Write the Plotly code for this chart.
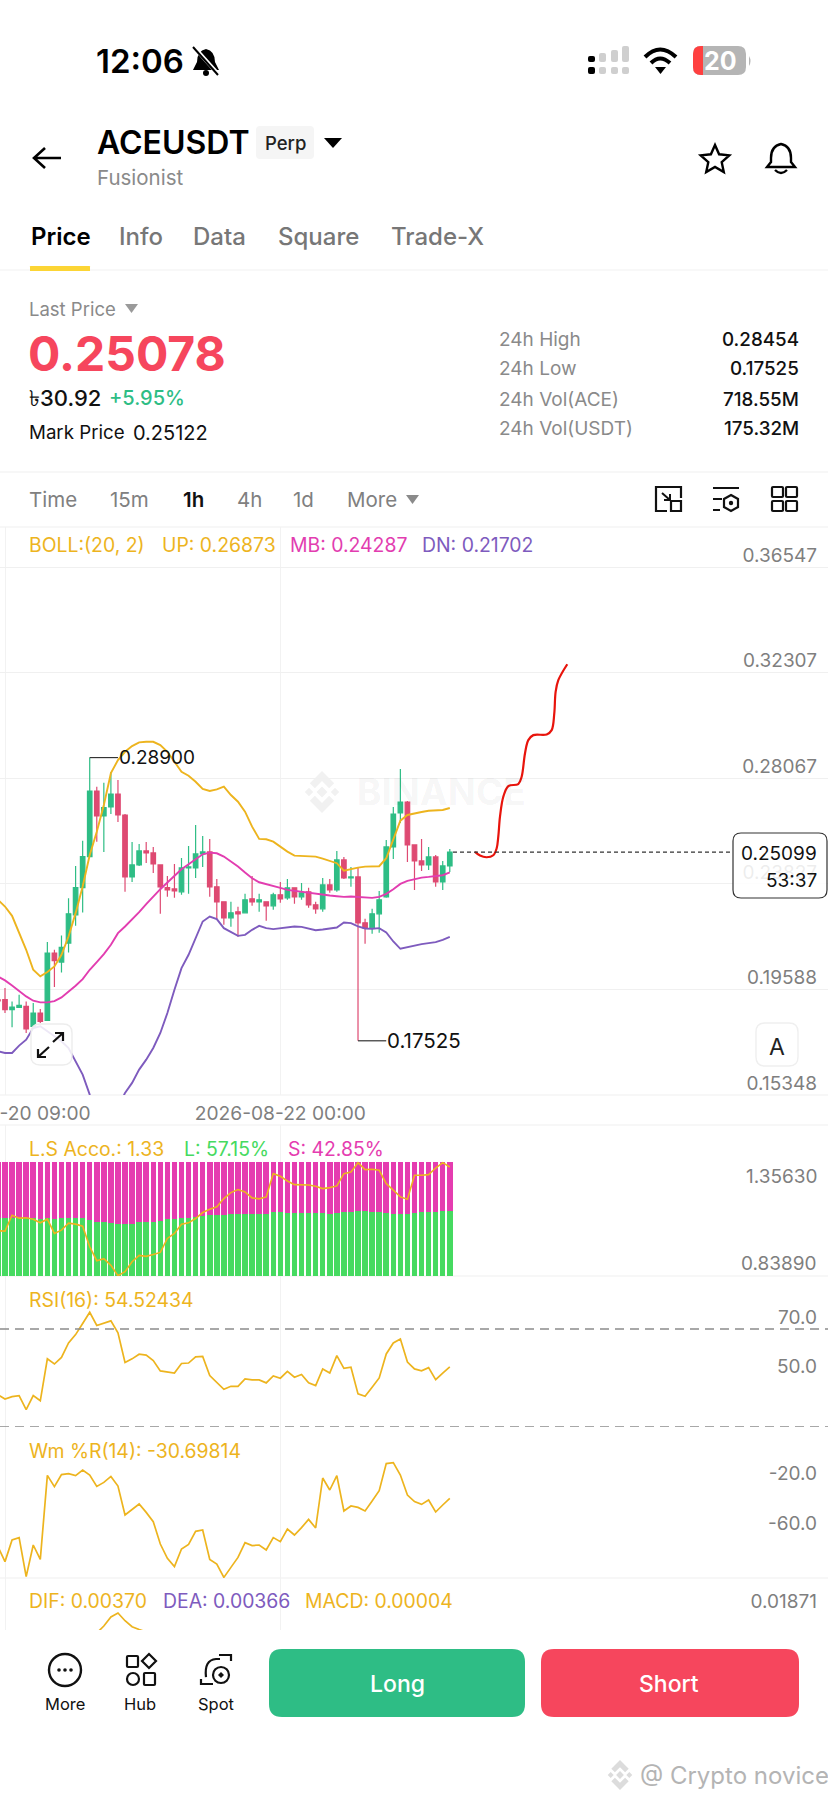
"""ACEUSDT perp screen: candles with BOLL, long/short, RSI, W%R and MACD panels."""
import math
import re
import pandas as pd
import plotly.graph_objects as go

W, H = 828, 1800
FONT = "Inter"
GREEN, RED, CANDLE_RED = "#2EBD85", "#F6465D", "#DE4A72"
YELLOW, MAGENTA, PURPLE = "#EDB41E", "#E23DB0", "#7E5BBE"
BAR_GREEN, BAR_MAGENTA = "#46DA60", "#E53CB0"
GRAY, GRID = "#7F7F7F", "#F2F2F2"

# hours from 2026-08-20 09:00, one candle an hour
hours = list(range(-1, 64))

candle_open = [0.19170, 0.19175, 0.18774, 0.18867, 0.18907, 0.18105, 0.18642, 0.18345, 0.21048, 0.20687,
               0.21449, 0.22584, 0.23679, 0.24922, 0.27556, 0.26554, 0.26915, 0.27436, 0.26594, 0.24108,
               0.24589, 0.25150, 0.25070, 0.24589, 0.23679, 0.23626, 0.23506, 0.24469, 0.24469, 0.25030,
               0.25110, 0.23707, 0.23105, 0.22464, 0.22704, 0.22664, 0.23225, 0.23105, 0.23105, 0.22945,
               0.23386, 0.23266, 0.23667, 0.23306, 0.23506, 0.22985, 0.22825, 0.23787, 0.23586, 0.24789,
               0.24068, 0.24108, 0.22263, 0.22063, 0.22624, 0.23306, 0.25311, 0.26674, 0.27115, 0.25391,
               0.24749, 0.24589, 0.24910, 0.23907, 0.24549]
candle_high = [0.19250, 0.19644, 0.19107, 0.19376, 0.19107, 0.19043, 0.18802, 0.21489, 0.21180, 0.21754,
               0.23254, 0.24549, 0.25563, 0.28900, 0.27729, 0.27889, 0.28318, 0.27997, 0.26634, 0.25511,
               0.25431, 0.25511, 0.25311, 0.24589, 0.24148, 0.24629, 0.24870, 0.25351, 0.26193, 0.25752,
               0.25632, 0.24028, 0.23105, 0.23105, 0.22905, 0.23426, 0.24148, 0.23426, 0.23105, 0.23466,
               0.23907, 0.24028, 0.23667, 0.23867, 0.23667, 0.23105, 0.24068, 0.24028, 0.25150, 0.24910,
               0.24509, 0.24469, 0.22424, 0.22825, 0.23546, 0.25591, 0.26915, 0.28439, 0.27155, 0.25391,
               0.25632, 0.25311, 0.24990, 0.24749, 0.25230]
candle_low = [0.19080, 0.18642, 0.18065, 0.18842, 0.17840, 0.18105, 0.18241, 0.18345, 0.19685, 0.20270,
              0.21072, 0.22143, 0.22676, 0.24910, 0.25523, 0.25110, 0.26634, 0.26313, 0.23506, 0.23907,
              0.24549, 0.24669, 0.24268, 0.22624, 0.23306, 0.23266, 0.23386, 0.23426, 0.24068, 0.24509,
              0.23306, 0.22383, 0.22183, 0.22103, 0.21702, 0.22664, 0.22945, 0.22704, 0.22343, 0.22784,
              0.23065, 0.23185, 0.23025, 0.23185, 0.22865, 0.22624, 0.22704, 0.23466, 0.23506, 0.24028,
              0.23707, 0.17525, 0.21421, 0.21822, 0.21862, 0.23266, 0.24830, 0.26273, 0.24709, 0.23586,
              0.24348, 0.24388, 0.23707, 0.23586, 0.24308]
candle_close = [0.19130, 0.18774, 0.18883, 0.18947, 0.18000, 0.18642, 0.18305, 0.21048, 0.20739, 0.21273,
                0.22624, 0.23679, 0.24922, 0.27556, 0.26554, 0.26887, 0.27436, 0.26594, 0.24108, 0.24589,
                0.25150, 0.25070, 0.24629, 0.23707, 0.23586, 0.23546, 0.24469, 0.24509, 0.25030, 0.25110,
                0.23707, 0.23105, 0.22464, 0.22664, 0.22624, 0.23185, 0.23105, 0.23185, 0.22945, 0.23386,
                0.23225, 0.23667, 0.23306, 0.23466, 0.22985, 0.22825, 0.23787, 0.23586, 0.24789, 0.24068,
                0.24108, 0.22263, 0.22063, 0.22624, 0.23185, 0.25311, 0.26634, 0.27115, 0.25391, 0.24749,
                0.24589, 0.24910, 0.23907, 0.24549, 0.25099]

boll_up = [0.23185, 0.22917, 0.22544, 0.21850, 0.21180, 0.20378, 0.20110, 0.20286, 0.20511, 0.20980,
           0.21714, 0.22652, 0.23719, 0.24990, 0.25924, 0.26995, 0.28278, 0.28799, 0.29132, 0.29361,
           0.29509, 0.29533, 0.29533, 0.29401, 0.29132, 0.28731, 0.28330, 0.28170, 0.27929, 0.27637,
           0.27556, 0.27624, 0.27729, 0.27396, 0.27127, 0.26726, 0.26125, 0.25632, 0.25619, 0.25523,
           0.25323, 0.25122, 0.24962, 0.24950, 0.24950, 0.24922, 0.24842, 0.24737, 0.24657, 0.24360,
           0.24429, 0.24481, 0.24521, 0.24537, 0.24537, 0.24858, 0.25591, 0.26365, 0.26594, 0.26662,
           0.26714, 0.26766, 0.26766, 0.26794, 0.26873]
boll_mb = [0.20111, 0.19950, 0.19749, 0.19536, 0.19308, 0.19134, 0.19068, 0.19068, 0.19121, 0.19268,
           0.19495, 0.19736, 0.20004, 0.20378, 0.20685, 0.21006, 0.21380, 0.21848, 0.22116, 0.22383,
           0.22690, 0.23011, 0.23318, 0.23613, 0.23880, 0.24147, 0.24415, 0.24615, 0.24816, 0.25016,
           0.25083, 0.25056, 0.24923, 0.24722, 0.24522, 0.24281, 0.24054, 0.23893, 0.23827, 0.23746,
           0.23666, 0.23586, 0.23546, 0.23506, 0.23452, 0.23412, 0.23385, 0.23359, 0.23332, 0.23305,
           0.23318, 0.23292, 0.23278, 0.23265, 0.23305, 0.23425, 0.23613, 0.23827, 0.23947, 0.24027,
           0.24080, 0.24107, 0.24134, 0.24174, 0.24287]
boll_dn = [0.17103, 0.17036, 0.17036, 0.17330, 0.17571, 0.18039, 0.18106, 0.17905, 0.17704, 0.17504,
           0.17237, 0.16702, 0.16167, 0.15365, 0.14764, 0.14363, 0.14363, 0.14831, 0.15432, 0.15833,
           0.16368, 0.16769, 0.17237, 0.17838, 0.18640, 0.19576, 0.20445, 0.20979, 0.21648, 0.22316,
           0.22516, 0.22410, 0.22049, 0.21888, 0.21741, 0.21781, 0.21982, 0.22142, 0.22049, 0.22009,
           0.22049, 0.22102, 0.22116, 0.22102, 0.22035, 0.21968, 0.21995, 0.22035, 0.22075, 0.22276,
           0.22249, 0.22116, 0.22035, 0.22022, 0.22049, 0.21875, 0.21514, 0.21220, 0.21287, 0.21354,
           0.21407, 0.21447, 0.21487, 0.21581, 0.21702]

long_pct = [51.0, 51.0, 50.6, 50.9, 50.9, 50.6, 50.4, 50.6, 50.4, 50.7,
            51.0, 51.0, 51.0, 49.0, 47.5, 47.2, 46.6, 45.8, 45.5, 46.0,
            47.5, 47.5, 47.5, 48.1, 49.6, 50.1, 51.0, 51.3, 51.9, 52.8,
            53.1, 53.4, 53.9, 54.5, 54.8, 54.5, 54.2, 54.2, 54.5, 56.3,
            56.0, 55.7, 55.4, 55.4, 55.4, 55.1, 55.1, 54.8, 55.1, 56.0,
            56.3, 57.1, 56.9, 56.6, 56.6, 55.7, 54.8, 54.5, 54.2, 55.7,
            56.0, 56.3, 56.6, 57.1, 57.15]
short_pct = [49.0, 49.0, 49.4, 49.1, 49.1, 49.4, 49.6, 49.4, 49.6, 49.3,
             49.0, 49.0, 49.0, 51.0, 52.5, 52.8, 53.4, 54.2, 54.5, 54.0,
             52.5, 52.5, 52.5, 51.9, 50.4, 49.9, 49.0, 48.7, 48.1, 47.2,
             46.9, 46.6, 46.1, 45.5, 45.2, 45.5, 45.8, 45.8, 45.5, 43.7,
             44.0, 44.3, 44.6, 44.6, 44.6, 44.9, 44.9, 45.2, 44.9, 44.0,
             43.7, 42.9, 43.1, 43.4, 43.4, 44.3, 45.2, 45.5, 45.8, 44.3,
             44.0, 43.7, 43.4, 42.9, 42.85]
ls_ratio = [1.0440, 1.0425, 1.1149, 1.1014, 1.1029, 1.0968, 1.0802, 1.0968, 1.0320, 1.0471,
            1.0787, 1.0742, 1.0652, 0.9716, 0.9083, 0.9173, 0.8872, 0.8404, 0.8585, 0.9037,
            0.9324, 0.9279, 0.9369, 0.9460, 1.0093, 1.0320, 1.0742, 1.0802, 1.0999, 1.1270,
            1.1421, 1.1527, 1.1904, 1.2175, 1.2311, 1.2205, 1.1934, 1.1889, 1.1979, 1.3035,
            1.2914, 1.2703, 1.2537, 1.2522, 1.2522, 1.2462, 1.2356, 1.2401, 1.2477, 1.3035,
            1.3110, 1.3533, 1.3216, 1.3231, 1.3186, 1.2582, 1.2281, 1.1979, 1.1873, 1.2960,
            1.2960, 1.2990, 1.3291, 1.3533, 1.3337]
rsi = [43.2, 41.4, 42.4, 42.8, 37.1, 42.8, 40.7, 57.8, 55.7, 58.4,
       64.3, 67.7, 72.2, 76.8, 71.4, 72.3, 73.3, 68.4, 56.3, 57.8,
       59.7, 59.3, 57.1, 52.9, 52.4, 52.0, 55.9, 56.1, 58.6, 58.8,
       51.0, 48.2, 45.4, 46.6, 46.6, 49.6, 49.2, 49.2, 48.0, 50.8,
       49.9, 52.7, 50.3, 51.4, 48.0, 46.9, 53.7, 52.0, 59.1, 53.9,
       54.4, 43.5, 42.5, 46.2, 50.0, 59.8, 64.3, 65.9, 56.5, 53.7,
       52.9, 54.2, 49.3, 52.0, 54.52434]
wm_r = [-69.3, -81.3, -64.0, -62.1, -93.3, -68.0, -79.5, -12.3, -21.3, -11.7,
        -10.9, -12.5, -8.0, -12.0, -21.1, -17.9, -13.1, -20.8, -44.0, -39.7,
        -35.2, -41.9, -49.3, -67.2, -78.7, -85.3, -71.2, -67.5, -57.1, -56.0,
        -79.5, -83.2, -93.9, -85.9, -77.9, -66.1, -68.5, -68.0, -72.0, -62.1,
        -65.3, -55.2, -60.0, -54.1, -47.5, -54.4, -14.4, -24.0, -12.5, -40.8,
        -36.8, -37.9, -40.8, -32.8, -24.5, -2.9, -2.1, -12.0, -28.0, -33.3,
        -35.5, -32.0, -41.6, -36.0, -30.69814]

# only this part of the MACD panel is above the bottom bar
dif_hours = [10, 11, 12, 13, 14, 15, 16, 17, 18, 19, 20, 21, 22]
dif = [0.0075, 0.0090, 0.01061, 0.01271, 0.01481, 0.01751, 0.01871, 0.01640, 0.01460, 0.01376, 0.01301, 0.0122, 0.0115]

# the hand drawn red curve
sketch_hours = [66.57, 67.28, 68.22, 69.16, 69.64, 69.87, 70.11, 70.58, 71.29, 72.70,
                73.18, 73.65, 74.12, 74.83, 76.72, 77.43, 77.80, 77.99, 78.37, 79.64]
sketch_price = [0.25110, 0.24963, 0.24896, 0.24976, 0.25257, 0.25724, 0.26527, 0.27328, 0.27756, 0.27836,
                0.28131, 0.29066, 0.29601, 0.29801, 0.29828, 0.30002, 0.30670, 0.31539, 0.32007, 0.32649]

price_ticks = [0.36547, 0.32307, 0.28067, 0.23827, 0.19588, 0.15348]
last_price = 0.25099
START = pd.Timestamp("2026-08-20 09:00")


def when(h):
    return (START + pd.Timedelta(hours=h)).strftime("%Y-%m-%d %H:%M:%S")


def band(top, bottom):
    return [1 - bottom / H, 1 - top / H]


shapes, notes = [], []


def to_paper(d):
    return re.sub(r"(-?[\d.]+),(-?[\d.]+)", lambda m: f"{float(m[1]) / W:.5f},{1 - float(m[2]) / H:.5f}", d)


def draw(d, fill=None, line=None, width=0.0, layer="above"):
    shapes.append(dict(type="path", xref="paper", yref="paper", path=to_paper(d), layer=layer,
                       fillcolor=fill or "rgba(0,0,0,0)",
                       line=dict(color=line or "rgba(0,0,0,0)", width=width)))


def rrect(x0, y0, x1, y1, r, **kw):
    draw(f"M {x0 + r},{y0} L {x1 - r},{y0} Q {x1},{y0} {x1},{y0 + r} L {x1},{y1 - r} Q {x1},{y1} {x1 - r},{y1} "
         f"L {x0 + r},{y1} Q {x0},{y1} {x0},{y1 - r} L {x0},{y0 + r} Q {x0},{y0} {x0 + r},{y0} Z", **kw)


def circle(cx, cy, r, fill=None, line=None, width=0.0):
    shapes.append(dict(type="circle", xref="paper", yref="paper", layer="above",
                       x0=(cx - r) / W, x1=(cx + r) / W, y0=1 - (cy + r) / H, y1=1 - (cy - r) / H,
                       fillcolor=fill or "rgba(0,0,0,0)",
                       line=dict(color=line or "rgba(0,0,0,0)", width=width)))


def diamond(cx, cy, r, **kw):
    draw(f"M {cx},{cy - r} L {cx + r},{cy} L {cx},{cy + r} L {cx - r},{cy} Z", **kw)


def logo(cx, cy, s, **kw):
    diamond(cx, cy, s * 0.26, **kw)
    diamond(cx - s * 0.62, cy, s * 0.2, **kw)
    diamond(cx + s * 0.62, cy, s * 0.2, **kw)
    draw(f"M {cx},{cy - s} L {cx + s * 0.58},{cy - s * 0.42} L {cx + s * 0.34},{cy - s * 0.18} L {cx},{cy - s * 0.52} "
         f"L {cx - s * 0.34},{cy - s * 0.18} L {cx - s * 0.58},{cy - s * 0.42} Z", **kw)
    draw(f"M {cx},{cy + s} L {cx + s * 0.58},{cy + s * 0.42} L {cx + s * 0.34},{cy + s * 0.18} L {cx},{cy + s * 0.52} "
         f"L {cx - s * 0.34},{cy + s * 0.18} L {cx - s * 0.58},{cy + s * 0.42} Z", **kw)


def txt(x, y, text, size=18, color="#111111", anchor="left", weight=400):
    notes.append(dict(xref="paper", yref="paper", x=x / W, y=1 - y / H, text=text, showarrow=False,
                      xanchor=anchor, yanchor="middle", borderpad=0,
                      font=dict(family=FONT, size=size, color=color, weight=weight)))


# status bar
txt(95, 61, "12:06", 33, "#000000", weight=600)
draw("M 206,49 Q 197,51 197,62 L 193,70 L 219,70 L 215,62 Q 215,51 206,49 Z", fill="#000000")
circle(206, 73, 3, fill="#000000")
draw("M 194,47 L 219,75", line="#FFFFFF", width=4)
draw("M 193,47 L 218,75", line="#000000", width=2)
rrect(588, 56, 595, 62, 2, fill="#000000")
rrect(588, 67, 595, 74, 2, fill="#000000")
for bar_x, bar_top in [(599, 53), (611, 50), (622, 46)]:
    rrect(bar_x, bar_top, bar_x + 7, 62, 2, fill="#CFCFCF")
    rrect(bar_x, 67, bar_x + 7, 74, 2, fill="#CFCFCF")
draw("M 645,57 Q 660,42 676,57", line="#000000", width=4)
draw("M 651,63 Q 660,54 670,63", line="#000000", width=4)
draw("M 655,67 L 666,67 L 660.5,74 Z", fill="#000000")
rrect(693, 46, 746, 75, 8, fill="#B5B5B5")
draw("M 703,46 L 701,46 Q 693,46 693,54 L 693,67 Q 693,75 701,75 L 703,75 Z", fill="#FF4040")
draw("M 749,56 Q 752,61 749,66 Z", fill="#B5B5B5")
txt(720, 61, "20", 25, "#FFFFFF", "center", 700)

# header
draw("M 35,158 L 61,158 M 45,148 L 34,158 L 45,168", line="#000000", width=2.6)
txt(96, 143, "ACEUSDT", 32, "#000000", weight=600)
rrect(256, 126, 314, 159, 4, fill="#F5F5F5")
txt(285, 143, "Perp", 18.5, "#222222", "center", 500)
draw("M 324,138 L 342,138 L 333,148 Z", fill="#000000")
txt(96, 177, "Fusionist", 20.5, "#8A8A8A")
star = [(715 + (15 if i % 2 == 0 else 7) * math.sin(i * math.pi / 5),
         160 - (15 if i % 2 == 0 else 7) * math.cos(i * math.pi / 5)) for i in range(10)]
draw("M " + " L ".join(f"{a:.1f},{b:.1f}" for a, b in star) + " Z", line="#000000", width=2.4)
draw("M 781,144 Q 771,146 771,158 L 771,162 L 767,167 L 795,167 L 791,162 L 791,158 Q 791,146 781,144 Z",
     line="#000000", width=2.4)
draw("M 775,170 Q 781,176 787,170", line="#000000", width=2.4)

# tabs
txt(30, 236, "Price", 24, "#000000", weight=600)
for tab_x, tab in [(118, "Info"), (192, "Data"), (277, "Square"), (390, "Trade-X")]:
    txt(tab_x, 236, tab, 24, "#777777", weight=500)
rrect(30, 266, 90, 271, 0.5, fill="#FCD535")

# price block
txt(28, 309, "Last Price", 18.5, "#8A8A8A")
draw("M 125,304 L 138,304 L 131.5,313 Z", fill="#9A9A9A")
txt(27, 353, "0.25078", 48, RED, weight=700)
txt(28, 398, "৳30.92", 22, "#111111", weight=500)
txt(108, 398, "+5.95%", 20, GREEN, weight=500)
txt(28, 433, "Mark Price", 18.7, "#111111")
txt(132, 433, "0.25122", 20, "#111111")
for row_y, name, val in [(339, "24h High", "0.28454"), (369, "24h Low", "0.17525"),
                         (399, "24h Vol(ACE)", "718.55M"), (429, "24h Vol(USDT)", "175.32M")]:
    txt(498, row_y, name, 19, "#8A8A8A")
    txt(800, row_y, val, 18.8, "#111111", "right", 500)

# timeframe row
for tf_x, tf in [(28, "Time"), (109, "15m"), (236, "4h"), (292, "1d"), (346, "More")]:
    txt(tf_x, 499, tf, 20.5, "#808080")
txt(182, 499, "1h", 20.5, "#111111", weight=600)
draw("M 406,495 L 419,495 L 412.5,504 Z", fill="#8A8A8A")
draw("M 681,498 L 681,487 L 656,487 L 656,511 L 667,511", line="#111111", width=2.2)
draw("M 671,501 L 681,501 L 681,511 L 671,511 Z", line="#111111", width=2.2)
draw("M 662,493 L 670,500 M 670,494 L 670,500 L 664,500", line="#111111", width=2)
draw("M 713,488 L 739,488 M 713,499 L 722,499 M 713,510 L 720,510", line="#111111", width=2.2)
draw("M 731,495 L 738,499 L 738,507 L 731,511 L 724,507 L 724,499 Z", line="#111111", width=2.2)
circle(731, 503, 2.2, fill="#111111")
for sq_x in (772, 786):
    for sq_y in (487, 501):
        rrect(sq_x, sq_y, sq_x + 11, sq_y + 10, 1, line="#111111", width=2.2)

# panel legends
LEGEND = 19.4
txt(28, 545, "BOLL:(20, 2)", LEGEND, YELLOW)
txt(161, 545, "UP: 0.26873", LEGEND, YELLOW)
txt(289, 545, "MB: 0.24287", LEGEND, MAGENTA)
txt(421, 545, "DN: 0.21702", LEGEND, PURPLE)
txt(28, 1149, "L.S Acco.: 1.33", LEGEND, YELLOW)
txt(183, 1149, "L: 57.15%", LEGEND, BAR_GREEN)
txt(287, 1149, "S: 42.85%", LEGEND, BAR_MAGENTA)
txt(28, 1300, "RSI(16): 54.52434", LEGEND, YELLOW)
txt(28, 1451, "Wm %R(14): -30.69814", LEGEND, YELLOW)
txt(28, 1601, "DIF: 0.00370", LEGEND, YELLOW)
txt(162, 1601, "DEA: 0.00366", LEGEND, PURPLE)
txt(304, 1601, "MACD: 0.00004", LEGEND, YELLOW)

# watermark behind the candles
logo(322, 792, 21, fill="#F1F1F1", layer="below")
notes.append(dict(xref="paper", yref="paper", x=355 / W, y=1 - 792 / H, text="BINANCE", showarrow=False,
                  xanchor="left", yanchor="middle",
                  font=dict(family=FONT, size=37, color="rgba(0,0,0,0.05)", weight=700)))

# panel separators
for sep_y in (472, 527, 1095, 1125, 1276, 1578):
    draw(f"M 0,{sep_y} L 828,{sep_y}", line="#EFEFEF", width=1.2, layer="below")
draw("M 0,270 L 828,270", line="#F2F2F2", width=1.2, layer="below")

# floating buttons
rrect(31, 1024, 72, 1065, 9, fill="rgba(255,255,255,0.86)", line="#EDEDED", width=1.4)
draw("M 38,1057 L 49,1047 M 38,1049 L 38,1057 L 46,1057 M 53,1042 L 63,1033 M 55,1033 L 63,1033 L 63,1041",
     line="#111111", width=2.2)
rrect(756, 1023, 798, 1066, 9, fill="#FFFFFF", line="#EFEFEF", width=1.4)
txt(777, 1047, "A", 23, "#222222", "center")

# last price box over the covered tick label
rrect(733, 833, 827, 898, 8, fill="rgba(255,255,255,0.86)", line="#333333", width=1.2)
txt(818, 853, "0.25099", 19, "#111111", "right")
txt(818, 880, "53:37", 19, "#111111", "right")
shapes.append(dict(type="line", xref="paper", yref="y", x0=453 / W, x1=733 / W, y0=last_price, y1=last_price,
                   line=dict(color="#333333", width=1.2, dash="4px,3px")))

# high and low callouts
for h, price, label, size in [(12, 0.28900, "0.28900", 19), (50, 0.17525, "0.17525", 20.5)]:
    shapes.append(dict(type="line", xref="x", yref="y", x0=when(h), x1=when(h + 4), y0=price, y1=price,
                       line=dict(color="#333333", width=1.2)))
    notes.append(dict(xref="x", yref="y", x=when(h + 4), y=price, text=label, showarrow=False, xanchor="left",
                      yanchor="middle", borderpad=0, font=dict(family=FONT, size=size, color="#111111")))

# ratio axis labels sit inside the bars' band
for val, label, anchor, shift in [(1.3563, "1.35630", "top", -2), (0.8389, "0.83890", "bottom", 0)]:
    notes.append(dict(xref="paper", yref="y6", x=818 / W, y=val, text=label, showarrow=False, xanchor="right",
                      yanchor=anchor, yshift=shift, borderpad=0, font=dict(family=FONT, size=19, color=GRAY)))

# bottom bar
circle(65, 1670, 16, line="#111111", width=2.4)
for dot_x in (59, 65, 71):
    circle(dot_x, 1670, 1.8, fill="#111111")
rrect(127, 1656, 138, 1667, 1, line="#111111", width=2.2)
diamond(149, 1661, 7, line="#111111", width=2.2)
circle(133, 1679, 6, line="#111111", width=2.2)
rrect(144, 1673, 155, 1685, 1, line="#111111", width=2.2)
draw("M 219,1655 L 231,1655 L 231,1661 M 201,1679 L 201,1684 L 213,1684", line="#111111", width=2.2)
draw("M 206,1677 Q 204,1660 216,1659 L 220,1659", line="#111111", width=2.2)
circle(221, 1675, 8, line="#111111", width=2.2)
diamond(221, 1675, 3, fill="#111111")
for nav_x, nav in [(65, "More"), (140, "Hub"), (216, "Spot")]:
    txt(nav_x, 1704, nav, 16.5, "#111111", "center")
rrect(269, 1649, 525, 1717, 13, fill=GREEN)
rrect(541, 1649, 799, 1717, 13, fill=RED)
txt(397, 1684, "Long", 23, "#FFFFFF", "center", 500)
txt(669, 1684, "Short", 23, "#FFFFFF", "center", 500)
logo(620, 1775, 15, fill="#DCDCDC")
txt(639, 1775, "@ Crypto novice", 24, "#B4B4B4")

x_dates = [when(h) for h in hours]
fig = go.Figure()
fig.add_trace(go.Candlestick(x=x_dates, open=candle_open, high=candle_high, low=candle_low, close=candle_close,
                             increasing=dict(line=dict(color=GREEN, width=1.2), fillcolor=GREEN),
                             decreasing=dict(line=dict(color=CANDLE_RED, width=1.2), fillcolor=CANDLE_RED),
                             whiskerwidth=0, xaxis="x", yaxis="y"))
for series, color in [(boll_up, YELLOW), (boll_mb, MAGENTA), (boll_dn, PURPLE)]:
    fig.add_trace(go.Scatter(x=x_dates, y=series, mode="lines", line=dict(color=color, width=1.9)))
fig.add_trace(go.Scatter(x=[when(h) for h in sketch_hours], y=sketch_price, mode="lines",
                         line=dict(color="#E8140C", width=2.2, shape="spline")))
bar_ms = 3600000 * 0.78
fig.add_trace(go.Bar(x=x_dates, y=long_pct, width=bar_ms, marker=dict(color=BAR_GREEN, line_width=0),
                     xaxis="x2", yaxis="y2"))
fig.add_trace(go.Bar(x=x_dates, y=short_pct, width=bar_ms, marker=dict(color=BAR_MAGENTA, line_width=0),
                     xaxis="x2", yaxis="y2"))
fig.add_trace(go.Scatter(x=x_dates, y=ls_ratio, mode="lines", line=dict(color=YELLOW, width=1.6),
                         xaxis="x2", yaxis="y6"))
fig.add_trace(go.Scatter(x=x_dates, y=rsi, mode="lines", line=dict(color=YELLOW, width=1.7), xaxis="x3", yaxis="y3"))
fig.add_trace(go.Scatter(x=x_dates, y=wm_r, mode="lines", line=dict(color=YELLOW, width=1.7), xaxis="x4", yaxis="y4"))
fig.add_trace(go.Scatter(x=[when(h) for h in dif_hours], y=dif, mode="lines", line=dict(color=YELLOW, width=1.7),
                         xaxis="x5", yaxis="y5"))

for level in (70, 30):
    shapes.append(dict(type="line", xref="paper", yref="y3", x0=0, x1=1, y0=level, y1=level,
                       line=dict(color="#8C8C8C", width=1.6, dash="9px,6px")))

x_range = [when(-0.708), when(116.57)]
grid_dates = [when(0), when(39)]
x_common = dict(type="date", range=x_range, tickmode="array", tickvals=grid_dates, showgrid=True, gridcolor=GRID,
                gridwidth=1, zeroline=False, showline=False, ticks="", fixedrange=True)
y_common = dict(side="right", ticklabelposition="inside", ticklabeloverflow="allow", tickmode="array",
                ticklabelstandoff=8, ticklabelshift=-12, ticks="", showline=False, zeroline=False, showgrid=False,
                tickfont=dict(family=FONT, size=19, color=GRAY), fixedrange=True)

fig.update_layout(
    width=W, height=H, margin=dict(l=0, r=0, t=0, b=0, autoexpand=False), autosize=False,
    paper_bgcolor="#FFFFFF", plot_bgcolor="#FFFFFF", showlegend=False, hovermode=False,
    barmode="stack", bargap=0, boxgap=0.2, boxgroupgap=0.2, font=dict(family=FONT),
    xaxis=dict(x_common, domain=[0, 1], anchor="y", rangeslider=dict(visible=False), ticklabeloverflow="allow",
               tickformat="%Y-%m-%d %H:%M", tickfont=dict(family=FONT, size=19.2, color=GRAY), ticklabelstandoff=5),
    xaxis2=dict(x_common, domain=[0, 1], anchor="y2", showticklabels=False),
    xaxis3=dict(x_common, domain=[0, 1], anchor="y3", showticklabels=False),
    xaxis4=dict(x_common, domain=[0, 1], anchor="y4", showticklabels=False),
    xaxis5=dict(x_common, domain=[0, 1], anchor="y5", showticklabels=False),
    yaxis=dict(y_common, domain=band(527, 1095), anchor="x", range=[0.15348, 0.38160], tickvals=price_ticks,
               ticktext=[f"{v:.5f}" for v in price_ticks], showgrid=True, gridcolor="#F0F0F0", gridwidth=1),
    yaxis2=dict(domain=band(1125, 1276), anchor="x2", range=[0, 132.5], visible=False, fixedrange=True),
    yaxis6=dict(overlaying="y2", range=[0.8389, 1.5242], visible=False, fixedrange=True),
    yaxis3=dict(y_common, domain=band(1276, 1427), anchor="x3", range=[30, 91.6], tickvals=[70, 50],
                ticktext=["70.0", "50.0"]),
    yaxis4=dict(y_common, domain=band(1427, 1578), anchor="x4", range=[-94.4, 26.4], tickvals=[-20, -60],
                ticktext=["-20.0", "-60.0"]),
    yaxis5=dict(y_common, domain=band(1578, 1630), anchor="x5", range=[0.01361, 0.02921], tickvals=[0.01871],
                ticktext=["0.01871"]),
    shapes=shapes, annotations=notes,
)

fig.write_html("out.html", config={"displayModeBar": False},
               post_script="document.body.style.margin='0';document.body.style.overflow='hidden';")
